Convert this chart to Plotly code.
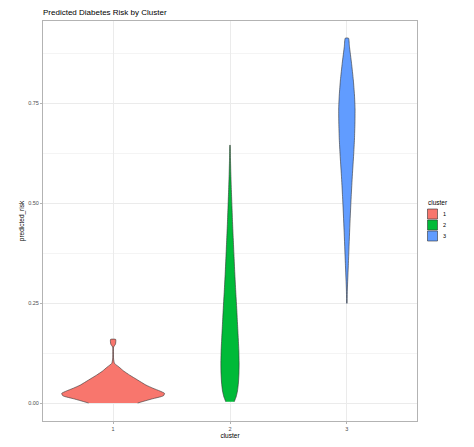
import plotly.graph_objects as go

# violin outlines: risk level -> half width (in cluster units)
clusters = ["1", "2", "3"]
colors = ["#F8766D", "#00BA38", "#619CFF"]

risk_1 = [0.000, 0.010, 0.018, 0.024, 0.030, 0.037, 0.045, 0.0575, 0.070, 0.080, 0.090, 0.099, 0.110, 0.125, 0.140, 0.147, 0.159]
width_1 = [0.21, 0.33, 0.43, 0.44, 0.40, 0.34, 0.28, 0.21, 0.14, 0.09, 0.05, 0.012, 0.004, 0.003, 0.004, 0.02, 0.022]

risk_2 = [0.003, 0.015, 0.030, 0.050, 0.075, 0.100, 0.130, 0.160, 0.200, 0.240, 0.280, 0.325, 0.370, 0.410, 0.450, 0.490, 0.530, 0.575, 0.610, 0.645]
width_2 = [0.036, 0.052, 0.064, 0.072, 0.077, 0.078, 0.076, 0.071, 0.064, 0.057, 0.049, 0.041, 0.034, 0.028, 0.022, 0.017, 0.012, 0.007, 0.004, 0.001]

risk_3 = [0.249, 0.2825, 0.349, 0.4325, 0.516, 0.570, 0.620, 0.660, 0.700, 0.735, 0.770, 0.808, 0.849, 0.891, 0.912]
width_3 = [0.002, 0.004, 0.013, 0.024, 0.037, 0.047, 0.058, 0.065, 0.069, 0.070, 0.065, 0.055, 0.040, 0.022, 0.014]

profiles = [(risk_1, width_1), (risk_2, width_2), (risk_3, width_3)]

fig = go.Figure()

for i, (risk, width) in enumerate(profiles):
    c = i + 1
    xs = [c + w for w in width] + [c - w for w in reversed(width)]
    ys = list(risk) + list(reversed(risk))
    fig.add_trace(go.Scatter(x=xs, y=ys, mode="lines", fill="toself",
                             fillcolor=colors[i],
                             line=dict(color="#333333", width=0.6, shape="spline", smoothing=0.5),
                             showlegend=False, hoverinfo="skip"))

# hand-made legend (ggplot-style small square keys)
W, H = 474, 447
l, r, t, b = 43, 57, 21, 26
pw, ph = W - l - r, H - t - b

def px_x(x):
    return (x - l) / pw

def px_y(y):
    return (H - b - y) / ph

fig.add_annotation(x=px_x(426), y=px_y(203), xref="paper", yref="paper", text="cluster",
                   showarrow=False, xanchor="left", yanchor="middle",
                   font=dict(size=6.5, color="black"))
for i, name in enumerate(clusters):
    y0 = 209 + i * 11
    fig.add_shape(type="rect", xref="paper", yref="paper",
                  x0=px_x(427.5), x1=px_x(437.5), y0=px_y(y0), y1=px_y(y0 + 10),
                  fillcolor=colors[i], line=dict(color="#333333", width=0.6))
    fig.add_annotation(x=px_x(441), y=px_y(y0 + 5), xref="paper", yref="paper", text=name,
                       showarrow=False, xanchor="left", yanchor="middle",
                       font=dict(size=5.5, color="black"))

fig.update_layout(
    width=W, height=H,
    margin=dict(l=l, r=r, t=t, b=b),
    paper_bgcolor="white", plot_bgcolor="white",
    font=dict(family="Liberation Sans, Arial, sans-serif", color="black"),
    title=dict(text="Predicted Diabetes Risk by Cluster", x=43/474, xanchor="left",
               y=1-12/447, yanchor="middle", font=dict(size=8, color="black")),
    showlegend=False,
)

fig.update_xaxes(range=[0.4, 3.6], tickvals=[1, 2, 3], ticktext=clusters, automargin=False,
                 title=dict(text="cluster", font=dict(size=6.5), standoff=0),
                 showgrid=True, gridcolor="#EBEBEB", gridwidth=0.6,
                 showline=True, linecolor="#B3B3B3", linewidth=1, mirror=True,
                 ticks="outside", ticklen=2, tickcolor="#B3B3B3", tickwidth=0.6,
                 tickfont=dict(size=5.5, color="#4D4D4D"), zeroline=False)

fig.update_yaxes(range=[-0.045, 0.955], tickvals=[0, 0.25, 0.5, 0.75], automargin=False,
                 ticktext=["0.00", "0.25", "0.50", "0.75"],
                 title=dict(text="predicted_risk", font=dict(size=6.5), standoff=2),
                 showgrid=True, gridcolor="#EBEBEB", gridwidth=0.6,
                 minor=dict(tickvals=[0.125, 0.375, 0.625, 0.875], showgrid=True,
                            gridcolor="#F4F4F4", gridwidth=0.4, ticks=""),
                 showline=True, linecolor="#B3B3B3", linewidth=1, mirror=True,
                 ticks="outside", ticklen=2, tickcolor="#B3B3B3", tickwidth=0.6,
                 tickfont=dict(size=5.5, color="#4D4D4D"), zeroline=False)

# drop the browser's default 8px body margin so the figure sits at the page corner
fig.write_html("out.html", config={"displayModeBar": False},
               post_script="document.body.style.margin='0';")
